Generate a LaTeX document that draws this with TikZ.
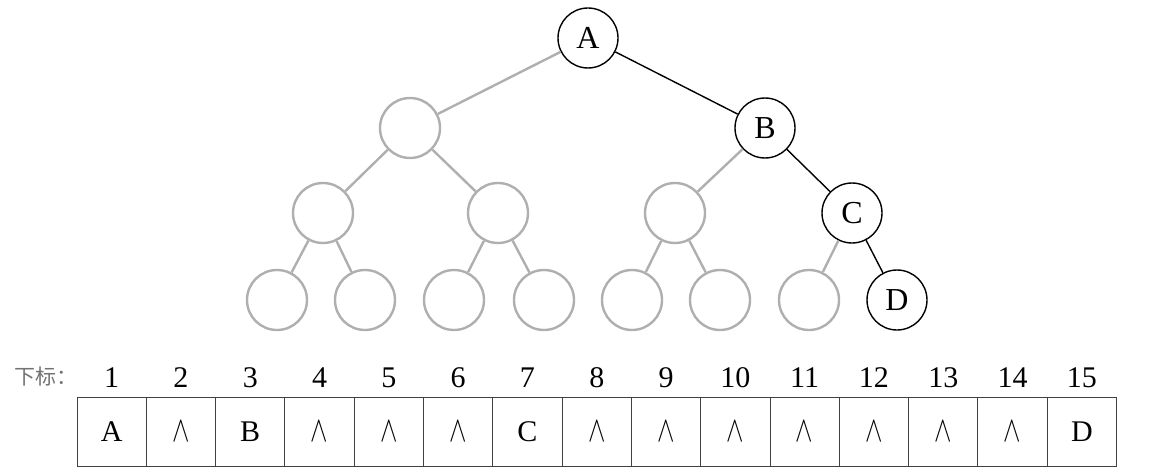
\documentclass[tikz,border=0pt]{standalone}
\usepackage{fontspec}
\setmainfont{Liberation Serif}
\newfontfamily\cjk{Noto Sans CJK SC}
\definecolor{treegray}{RGB}{175,175,175}
\newcommand{\nil}{\scalebox{1.05}[1.45]{$\wedge$}}
\begin{document}
\begin{tikzpicture}
        [x=1pt,y=-1pt,
        nodedecorate/.style={shape=circle,minimum size=60pt,inner sep=0pt,draw,font=\fontsize{32}{34}\selectfont},%
        fullnode/.style={nodedecorate,draw=black,line width=1.4pt},%
        emptynode/.style={nodedecorate,draw=treegray,line width=2.4pt},%
        fulledge/.style={-,draw=black,line width=1.4pt},%
        emptyedge/.style={-,draw=treegray,line width=2.4pt},%
        celldecorate/.style={draw=black!75,line width=1pt,minimum width=69.3pt,minimum height=69pt,inner sep=0pt,font=\fontsize{30}{32}\selectfont},%
        indexdecorate/.style={font=\fontsize{30}{32}\selectfont}]
        \useasboundingbox (0,0) rectangle (1167,476);
        %% nodes of the tree, named by heap index
        \foreach \nodename/\x/\y/\kind/\txt in { 1/588/38/fullnode/A,
          2/410/128/emptynode/, 3/765/128/fullnode/B,
          4/323/213/emptynode/, 5/498/213/emptynode/, 6/675/213/emptynode/, 7/852/213/fullnode/C,
          8/277/300/emptynode/, 9/365/300/emptynode/, 10/454/300/emptynode/, 11/544/300/emptynode/,
          12/632/300/emptynode/, 13/720/300/emptynode/, 14/809/300/emptynode/, 15/897/300/fullnode/D}
        {
          \node (n\nodename) at (\x,\y) [\kind] {\txt};
        }
        %% edges or lines
        \foreach \startnode/\endnode/\kind in {1/2/emptyedge, 1/3/fulledge, 2/4/emptyedge, 2/5/emptyedge,
          3/6/emptyedge, 3/7/fulledge, 4/8/emptyedge, 4/9/emptyedge, 5/10/emptyedge, 5/11/emptyedge,
          6/12/emptyedge, 6/13/emptyedge, 7/14/emptyedge, 7/15/fulledge}
        {
          \draw[\kind] (n\startnode) -- (n\endnode);
        }
        %% array of the sequential storage
        \node[text=black!55,font=\cjk\fontsize{21}{23}\selectfont] (caption) at (46,377) {下标：};
        \foreach \i/\txt in {1/A, 2/\nil, 3/B, 4/\nil, 5/\nil, 6/\nil, 7/C, 8/\nil,
          9/\nil, 10/\nil, 11/\nil, 12/\nil, 13/\nil, 14/\nil, 15/D}
        {
          \node[celldecorate] (c\i) at ({77+69.3*(\i-0.5)},431.5) {\txt};
          \node[indexdecorate] (i\i) at ({77+69.3*(\i-0.5)},378) {\i};
        }
      \end{tikzpicture}
\end{document}
